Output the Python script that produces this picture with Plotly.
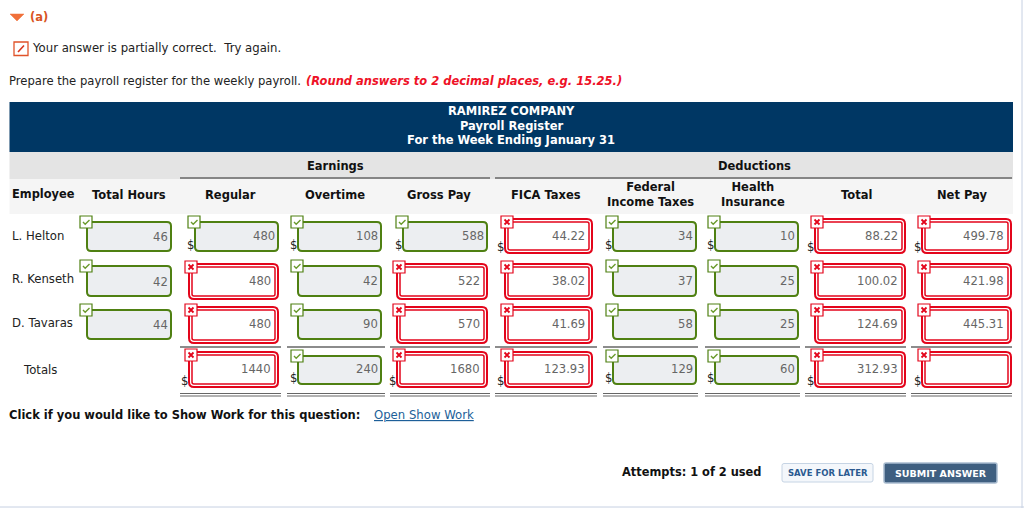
"""Payroll register screenshot (partially graded answer form) redrawn with Plotly."""

import plotly.graph_objects as go

FONT = "DejaVu Sans"
NAVY = "#003764"
GREEN = "#4f8012"
RED = "#e3051b"
ORANGE = "#e0532a"

employees = ["L. Helton", "R. Kenseth", "D. Tavaras", "Totals"]

total_hours = ["46", "42", "44", None]
regular = ["480", "480", "480", "1440"]
overtime = ["108", "42", "90", "240"]
gross_pay = ["588", "522", "570", "1680"]
fica = ["44.22", "38.02", "41.69", "123.93"]
federal = ["34", "37", "58", "129"]
health = ["10", "25", "25", "60"]
total_ded = ["88.22", "100.02", "124.69", "312.93"]
net_pay = ["499.78", "421.98", "445.31", ""]

# True = graded correct (green), False = wrong (red)
hours_ok = [True, True, True, None]
regular_ok = [True, False, False, False]
overtime_ok = [True, True, True, True]
gross_ok = [True, False, False, False]
fica_ok = [False, False, False, False]
federal_ok = [True, True, True, True]
health_ok = [True, True, True, True]
total_ok = [False, False, False, False]
net_ok = [False, False, False, False]

column_values = [total_hours, regular, overtime, gross_pay, fica, federal, health, total_ded, net_pay]
column_status = [hours_ok, regular_ok, overtime_ok, gross_ok, fica_ok, federal_ok, health_ok, total_ok, net_ok]
column_titles = ["Total Hours", "Regular", "Overtime", "Gross Pay", "FICA Taxes",
                 "Federal<br>Income Taxes", "Health<br>Insurance", "Total", "Net Pay"]

# geometry of the form, in page pixels
BOX_RIGHT = [171, 278, 381, 487, 592, 696, 798, 905, 1011]
GREEN_LEFT = [87, 195, 298, 403, 510, 613, 715, 821, 928]
RED_LEFT = [81, 189, 292, 397, 505, 607, 709, 815, 922]
TITLE_X = [129, 230, 335, 439, 546, 650, 753, 856, 962]
RULE_X = [None, (180, 281), (287, 385), (390, 490), (495, 597), (603, 698), (705, 800), (805, 906), (911, 1012)]
GREEN_Y = [(222, 251), (266, 296), (310, 339), (356, 384)]
RED_Y = [(219, 253), (264, 299), (307, 343), (352, 387)]
VALUE_Y = [236, 281, 324, 369]
LABEL_Y = [236, 279, 323, 370]

shapes = []
notes = []


def rect(x0, y0, x1, y1, fill, line=None, width=1):
    shapes.append(dict(type="rect", x0=x0, y0=y0, x1=x1, y1=y1, fillcolor=fill,
                       line=dict(color=line or fill, width=width if line else 0)))


def hline(x0, x1, y, color="#666666", width=1.5):
    shapes.append(dict(type="line", x0=x0, x1=x1, y0=y, y1=y, line=dict(color=color, width=width)))


def path(d, color, width=1.5, fill=None):
    shapes.append(dict(type="path", path=d, line=dict(color=color, width=width),
                       fillcolor=fill or "rgba(0,0,0,0)"))


def rounded(x0, y0, x1, y1, r, color, width, fill):
    d = (f"M{x0+r},{y0} L{x1-r},{y0} Q{x1},{y0} {x1},{y0+r} L{x1},{y1-r} Q{x1},{y1} {x1-r},{y1} "
         f"L{x0+r},{y1} Q{x0},{y1} {x0},{y1-r} L{x0},{y0+r} Q{x0},{y0} {x0+r},{y0} Z")
    path(d, color, width, fill)


def text(x, y, s, size=11.6, color="#222222", bold=False, anchor="left", italic=False):
    if bold:
        s = f"<b>{s}</b>"
    if italic:
        s = f"<i>{s}</i>"
    notes.append(dict(x=x, y=y, text=s, showarrow=False, xanchor=anchor, yanchor="middle", borderpad=0,
                      borderwidth=0, font=dict(family=FONT, size=size, color=color), align="center"))


def green_box(left, right, top, bottom):
    rounded(left, top, right, bottom, 4, GREEN, 2, "#eceef1")
    x, y = left - 7, top - 6
    rect(x, y, x + 12, y + 12, "white", GREEN, 1.2)
    path(f"M{x+3},{y+6} L{x+5.2},{y+8.2} L{x+9.5},{y+4}", "#6a9a2c", 1.4)


def red_box(left, right, top, bottom):
    rounded(left, top, right, bottom, 5, RED, 2, "white")
    rounded(left + 3, top + 3, right - 3, bottom - 3, 2, RED, 1.5, "white")
    x, y = left - 4, top - 3
    rect(x, y, x + 12, y + 12, "white", RED, 1.2)
    path(f"M{x+3.5},{y+3.5} L{x+8.5},{y+8.5} M{x+8.5},{y+3.5} L{x+3.5},{y+8.5}", RED, 1.8)


# top of the page
path("M10,14 L24,14 L17,21 Z", "#f0703a", 0.5, "#f0703a")
text(30, 17, "(a)", 11.5, "#d9541e", bold=True)
rect(14, 42, 28, 55.5, "white", ORANGE, 1.3)
path("M18,52 L24,45.5", "#d8341c", 1.6)
text(32, 48, "Your answer is partially correct.  Try again.", 11.7)
text(9, 81, "Prepare the payroll register for the weekly payroll.")
text(306, 81, "(Round answers to 2 decimal places, e.g. 15.25.)", 11.5, "#ee1126", bold=True, italic=True)

# table header bands
rect(9.5, 102, 1013, 152, NAVY)
rect(9.5, 152, 1013, 179, "#e4e4e4")
rect(9.5, 179, 1013, 214, "#f5f5f5")
for y, s in zip([111, 126, 140], ["RAMIREZ COMPANY", "Payroll Register", "For the Week Ending January 31"]):
    text(511, y, s, 11.5, "white", bold=True, anchor="center")
text(335, 166, "Earnings", 11.5, "#111111", bold=True, anchor="center")
text(754, 166, "Deductions", 11.5, "#111111", bold=True, anchor="center")
hline(180, 490, 178)
hline(495, 1012, 178)
text(12, 194, "Employee", 11.4, "#111111", bold=True)
for x, s in zip(TITLE_X, column_titles):
    text(x, 194.5, s, 11.5, "#111111", bold=True, anchor="center")

for y, name in zip(LABEL_Y, employees):
    text(23 if name == "Totals" else 12, y, name, 11.7)

# rules above and below the totals row
for rule in RULE_X:
    if rule:
        hline(rule[0], rule[1], 347)
        hline(rule[0], rule[1], 393.5, width=1.2)
        hline(rule[0], rule[1], 396, width=1.2)

# answer boxes
for c, (values, status) in enumerate(zip(column_values, column_status)):
    for r, (val, ok) in enumerate(zip(values, status)):
        if ok is None:
            continue
        if ok:
            green_box(GREEN_LEFT[c], BOX_RIGHT[c], *GREEN_Y[r])
            left, inset, dollar_y = GREEN_LEFT[c], 3.5, GREEN_Y[r][1] - 6
        else:
            red_box(RED_LEFT[c], BOX_RIGHT[c], *RED_Y[r])
            left, inset, dollar_y = RED_LEFT[c], 7, RED_Y[r][1] - 6
        text(BOX_RIGHT[c] - inset, VALUE_Y[r] + (1 if c == 0 else 0), val, color="#666666", anchor="right")
        if c > 0 and r in (0, 3):
            text(left - 1.5, dollar_y, "$", 11.7, "#222222", anchor="right")

# footer
text(9, 415, "Click if you would like to Show Work for this question:", 11.5, "#111111", bold=True)
text(374, 415, "<u>Open Show Work</u>", 11.7, "#1d5f99")
text(622, 472, "Attempts: 1 of 2 used", 11.4, "#111111", bold=True)
rounded(782, 463.5, 873, 482, 2, "#c6d4e4", 1, "#f4f7fb")
text(827.5, 473, "SAVE FOR LATER", 8.5, "#2a5a90", bold=True, anchor="center")
rounded(884, 463, 997, 483, 2, "#a9bccf", 1.5, "#3f5f80")
text(940.5, 473, "SUBMIT ANSWER", 9.5, "white", bold=True, anchor="center")

# page edges
shapes.append(dict(type="line", x0=1022, x1=1022, y0=0, y1=508, line=dict(color="#c6d0e2", width=1)))
hline(0, 1024, 507, "#c6d0e2", 1)

fig = go.Figure()
fig.update_layout(
    width=1024, height=508,
    margin=dict(l=0, r=0, t=0, b=0),
    paper_bgcolor="white", plot_bgcolor="white",
    showlegend=False,
    xaxis=dict(range=[0, 1024], visible=False, fixedrange=True),
    yaxis=dict(range=[508, 0], visible=False, fixedrange=True),
    shapes=shapes,
    annotations=notes,
)

fig.write_html("out.html", config=dict(displayModeBar=False),
               post_script="document.body.style.margin='0';")
